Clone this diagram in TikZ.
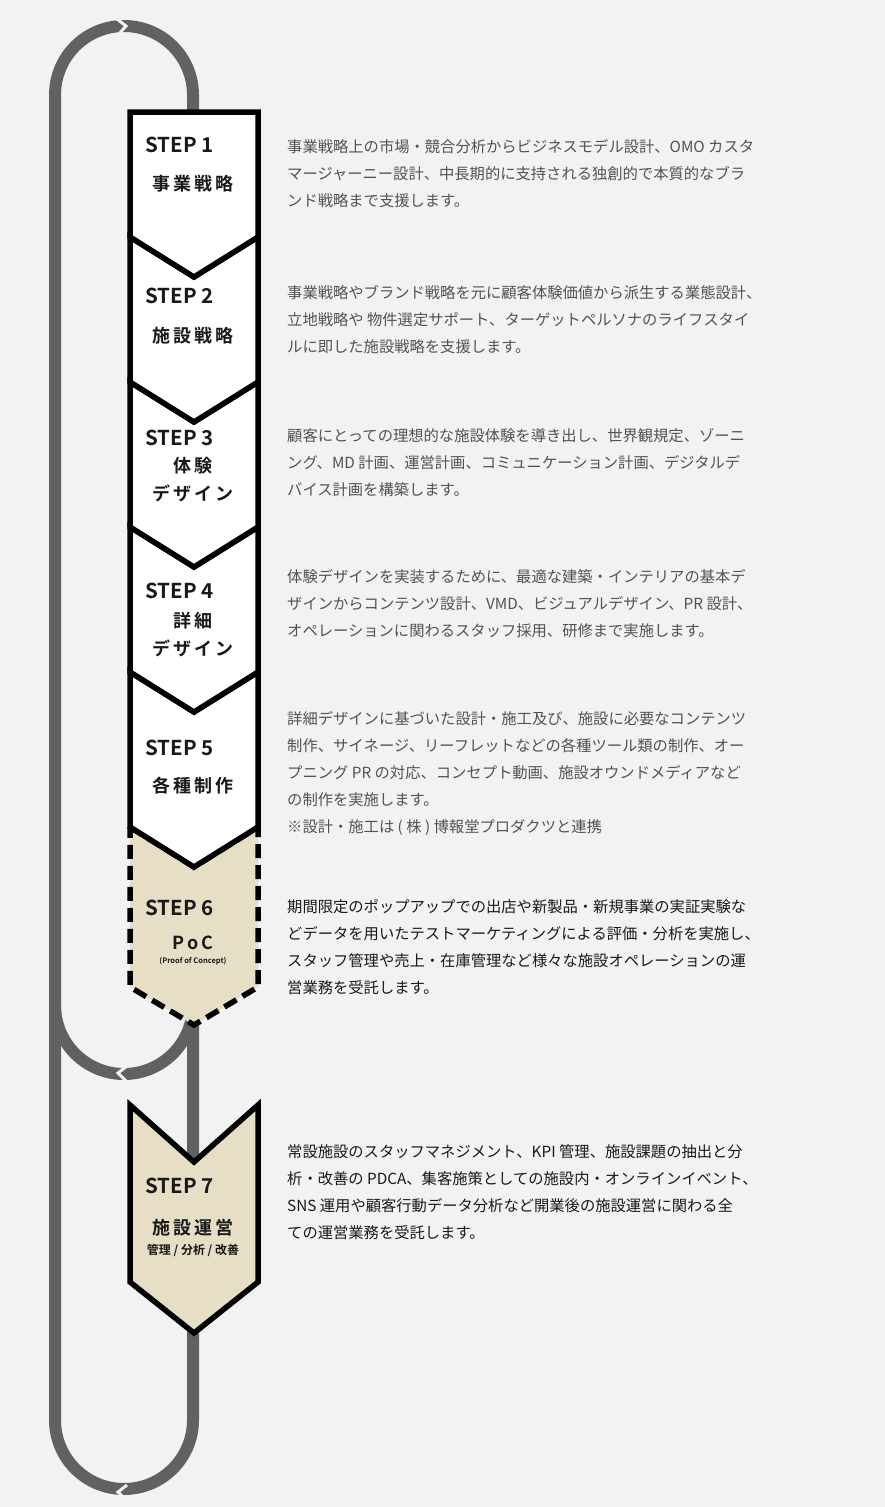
\documentclass[tikz,border=0pt]{standalone}
\usepackage{fontspec}
\setmainfont{Noto Sans CJK JP}
\newfontfamily\stepf{Noto Sans CJK JP Bold}
\begin{document}
\begin{tikzpicture}[x=1pt,y=-1pt,
  loop/.style={draw=black!62,line width=12pt},
  gapm/.style={draw=black!5,line width=3pt},
  chev/.style={draw=black,line width=5.5pt,line join=miter,fill=white},
  chevb/.style={chev,fill=bg},
  stp/.style={font=\stepf\fontsize{20.5}{22}\selectfont,text=black!90,anchor=west},
  sub/.style={font=\stepf\fontsize{18}{20}\selectfont,text=black!90},
  body/.style={anchor=north west,align=left,text=black!68,font=\fontsize{15.3}{27}\selectfont,inner sep=0pt}]
\definecolor{bg}{HTML}{E6DFC6}
\fill[black!5] (0,0) rectangle (885,1507);
\useasboundingbox (0,0) rectangle (885,1507);
\coordinate (tl) at (55,95); \coordinate (tr) at (193,95);
\coordinate (bl) at (55,1420); \coordinate (br) at (193,1420);
\coordinate (il) at (55,1005); \coordinate (ir) at (193,1005);
\coordinate (s1top) at (193,112); \coordinate (s6tip) at (193,1020);
% loops
\draw[loop] (s1top) -- (tr) arc[start angle=0,end angle=-180,radius=69] -- (bl) arc[start angle=180,end angle=0,radius=69] -- (s6tip);
\draw[loop] (ir) arc[start angle=0,end angle=180,radius=69] -- (il);
% gap marks
\draw[gapm] (117,19) -- (126,26) -- (119,34);
\draw[gapm] (127,1066) -- (118,1073) -- (126,1081);
\draw[gapm] (127,1485) -- (118,1492) -- (126,1500);
% chevrons
\draw[chevb] (130,1105) -- (194,1162) -- (258,1105) -- (258,1282) -- (194,1333) -- (130,1282) -- cycle;
\draw[chevb,dash pattern=on 14pt off 7pt] (130,827) -- (194,867) -- (258,827) -- (258,987) -- (194,1025) -- (130,987) -- cycle;
\draw[chev] (130,672) -- (194,712) -- (258,672) -- (258,827) -- (194,867) -- (130,827) -- cycle;
\draw[chev] (130,527) -- (194,567) -- (258,527) -- (258,672) -- (194,712) -- (130,672) -- cycle;
\draw[chev] (130,382) -- (194,422) -- (258,382) -- (258,527) -- (194,567) -- (130,527) -- cycle;
\draw[chev] (130,237) -- (194,277) -- (258,237) -- (258,382) -- (194,422) -- (130,382) -- cycle;
\draw[chev] (130,112) -- (258,112) -- (258,237) -- (194,277) -- (130,237) -- cycle;
% step labels
\node[stp] (l1) at (142,145) {STEP 1};
\node[sub] (j1) at (193,184) {事\,業\,戦\,略};
\node[stp] (l2) at (142,296) {STEP 2};
\node[sub] (j2) at (193,336) {施\,設\,戦\,略};
\node[stp] (l3) at (142,438) {STEP 3};
\node[sub] (j3a) at (193,466) {体\,験};
\node[sub] (j3b) at (193,493) {デ\,ザ\,イ\,ン};
\node[stp] (l4) at (142,591) {STEP 4};
\node[sub] (j4a) at (193,621) {詳\,細};
\node[sub] (j4b) at (193,648) {デ\,ザ\,イ\,ン};
\node[stp] (l5) at (142,748) {STEP 5};
\node[sub] (j5) at (193,786) {各\,種\,制\,作};
\node[stp] (l6) at (142,908) {STEP 6};
\node[sub] (j6) at (193,943) {P\,o\,C};
\node[font=\stepf\fontsize{7.5}{8}\selectfont,text=black!90] (j6b) at (193,961) {(Proof of Concept)};
\node[stp] (l7) at (142,1186) {STEP 7};
\node[sub] (j7) at (193,1228) {施\,設\,運\,営};
\node[font=\stepf\fontsize{12}{13}\selectfont,text=black!90] (j7b) at (193,1250) {管理 / 分析 / 改善};
% body texts
\node[body] (t1) at (287,139) {事業戦略上の市場・競合分析からビジネスモデル設計、OMO カスタ\\マージャーニー設計、中長期的に支持される独創的で本質的なブラ\\ンド戦略まで支援します。};
\node[body] (t2) at (287,285) {事業戦略やブランド戦略を元に顧客体験価値から派生する業態設計、\\立地戦略や 物件選定サポート、ターゲットペルソナのライフスタイ\\ルに即した施設戦略を支援します。};
\node[body] (t3) at (287,428) {顧客にとっての理想的な施設体験を導き出し、世界観規定、ゾーニ\\ング、MD 計画、運営計画、コミュニケーション計画、デジタルデ\\バイス計画を構築します。};
\node[body] (t4) at (287,569) {体験デザインを実装するために、最適な建築・インテリアの基本デ\\ザインからコンテンツ設計、VMD、ビジュアルデザイン、PR 設計、\\オペレーションに関わるスタッフ採用、研修まで実施します。};
\node[body] (t5) at (287,711) {詳細デザインに基づいた設計・施工及び、施設に必要なコンテンツ\\制作、サイネージ、リーフレットなどの各種ツール類の制作、オー\\プニング PR の対応、コンセプト動画、施設オウンドメディアなど\\の制作を実施します。\\※設計・施工は ( 株 ) 博報堂プロダクツと連携};
\node[body,text=black!90] (t6) at (287,899) {期間限定のポップアップでの出店や新製品・新規事業の実証実験な\\どデータを用いたテストマーケティングによる評価・分析を実施し、\\スタッフ管理や売上・在庫管理など様々な施設オペレーションの運\\営業務を受託します。};
\node[body,text=black!90] (t7) at (287,1144) {常設施設のスタッフマネジメント、KPI 管理、施設課題の抽出と分\\析・改善の PDCA、集客施策としての施設内・オンラインイベント、\\SNS 運用や顧客行動データ分析など開業後の施設運営に関わる全\\ての運営業務を受託します。};
\end{tikzpicture}
\end{document}
